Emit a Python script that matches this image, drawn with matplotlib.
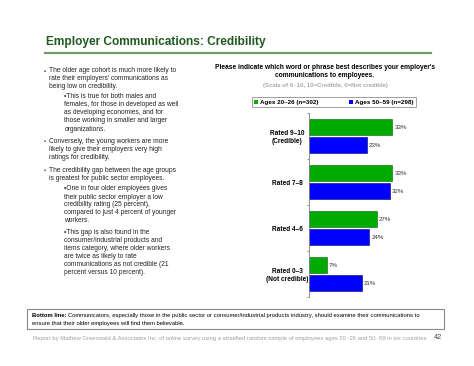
import numpy as np
import matplotlib.pyplot as plt
from matplotlib.patches import Rectangle
from matplotlib.lines import Line2D

plt.rcParams['font.family'] = ['Liberation Sans', 'DejaVu Sans']

W, H = 474, 366

# data
categories = ['Rated 9\u201310\n(Credible)', 'Rated 7\u20138', 'Rated 4\u20136', 'Rated 0\u20133\n(Not credible)']
young = [33, 33, 27, 7]
older = [23, 32, 24, 21]
series_names = ['Ages 20\u201326 (n=302)', 'Ages 50\u201359 (n=298)']

title = 'Employer Communications: Credibility'
question = "Please indicate which word or phrase best describes your employer's\ncommunications to employees."
scale_note = '(Scale of 0 -10, 10=Credible, 0=Not credible)'
footer = ('Report by Mathew Greenwald & Associates Inc. of online survey using a stratified '
          'random sample of employees ages 20 -26 and 50 -59 in six countries')
page_no = '42'

# left column: (kind, y of first line, lines)
notes = [
    ('b', 71, ['The older age cohort is much more likely to',
               "rate their employers' communications as",
               'being low on credibility.']),
    ('s', 97, ['\u2022This is true for both males and',
               'females, for those in developed as well',
               'as developing economies, and for',
               'those working in smaller and larger',
               'organizations.']),
    ('b', 141.5, ['Conversely, the young workers are more',
                  'likely to give their employers very high',
                  'ratings for credibility.']),
    ('b', 170, ['The credibility gap between the age groups',
                'is greatest for public sector employees.']),
    ('s', 189, ['\u2022One in four older employees gives',
                'their public sector employer a low',
                'credibility rating (25 percent),',
                'compared to just 4 percent of younger',
                'workers.']),
    ('s', 232.7, ['\u2022This gap is also found in the',
                  'consumer/industrial products and',
                  'items category, where older workers',
                  'are twice as likely to rate',
                  'communications as not credible (21',
                  'percent versus 10 percent).']),
]


def fx(x):
    return x / W


def fy(y):
    return 1 - y / H


fig = plt.figure(figsize=(W / 100, H / 100), dpi=100)

# title + rule
fig.text(fx(46), fy(42), title, fontsize=8.6, fontweight='bold', color='#1f5a1f', va='center')
fig.add_artist(Line2D([fx(45), fx(431)], [fy(53.3), fy(53.3)], color='#6f9a68', lw=1.6))

# bullets
txt_col = '#222222'
step = 8.0
for kind, y0, lines in notes:
    if kind == 'b':
        fig.text(fx(43.5), fy(y0), '\u25aa', fontsize=4.5, color='#555555', va='center')
        x = 49
    else:
        x = 64.5
    for i, line in enumerate(lines):
        fig.text(fx(x), fy(y0 + i * step), line, fontsize=4.8, color=txt_col, va='center')

# chart headings
fig.text(fx(325), fy(71.5), question, fontsize=4.8, fontweight='bold', ha='center',
         va='center', linespacing=1.25)
fig.text(fx(325), fy(86), scale_note, fontsize=4.3, fontweight='bold', color='#a8a8a8',
         ha='center', va='center')

# bar chart
ax = fig.add_axes([fx(309), fy(297.3), (435 - 309) / W, (297.3 - 113.3) / H])
pos = np.arange(len(categories))
off = 0.195
bh = 0.355
b1 = ax.barh(pos - off, young, height=bh, color='#00aa00', edgecolor='#006600', lw=0.4,
             label=series_names[0])
b2 = ax.barh(pos + off, older, height=bh, color='#0000ff', edgecolor='#00006a', lw=0.4,
             label=series_names[1])
ax.bar_label(b1, fmt='{:.0f}%', padding=1.5, fontsize=4.4, color='#333333')
ax.bar_label(b2, fmt='{:.0f}%', padding=1.5, fontsize=4.4, color='#333333')

ax.set_xlim(0, 50)
ax.set_ylim(3.5, -0.5)
ax.set_yticks(pos)
ax.set_yticklabels(categories, fontsize=4.7, fontweight='bold', ha='center')
ax.set_yticks(np.arange(-0.5, 4, 1), minor=True)
ax.tick_params(axis='y', which='major', length=0, pad=15.5)
ax.tick_params(axis='y', which='minor', length=1.8, width=0.6, color='#808080')
ax.set_xticks([])
for s in ['top', 'right', 'bottom']:
    ax.spines[s].set_visible(False)
ax.spines['left'].set_color('#808080')
ax.spines['left'].set_linewidth(0.6)

leg = fig.legend(handles=[b1, b2], loc='center', ncol=2, mode='expand',
                 bbox_to_anchor=(fx(249), fy(107.7), 170 / W, 11 / H),
                 prop={'size': 4.5, 'weight': 'bold'}, handlelength=0.6, handleheight=0.6,
                 handletextpad=0.3, borderpad=0.35, fancybox=False, edgecolor='#909090',
                 framealpha=1)
leg.get_frame().set_linewidth(0.6)
for h in leg.legend_handles:
    h.set_linewidth(0)

# bottom line box
fig.add_artist(Rectangle((fx(27), fy(329)), (444 - 27) / W, 20 / H, transform=fig.transFigure,
                         facecolor='white', edgecolor='#888888', lw=0.8))
bl = fig.text(fx(31.7), fy(315.7), 'Bottom line:', fontsize=4.25, fontweight='bold', va='center')
fig.canvas.draw()
bb = bl.get_window_extent()
fig.text(bb.x1 / fig.bbox.width + 1.5 / W, fy(315.7),
         'Communicators, especially those in the public sector or consumer/industrial products '
         'industry, should examine their communications to',
         fontsize=4.25, va='center')
fig.text(fx(31.7), fy(324), 'ensure that their older employees will find them believable.',
         fontsize=4.25, va='center')

# footer
fig.text(fx(33), fy(338.5), footer, fontsize=4.25, color='#a0a0a0', va='center')
fig.text(fx(434), fy(337.5), page_no, fontsize=5.3, color='#444444', va='center')

fig.savefig('out.png', dpi=100)
